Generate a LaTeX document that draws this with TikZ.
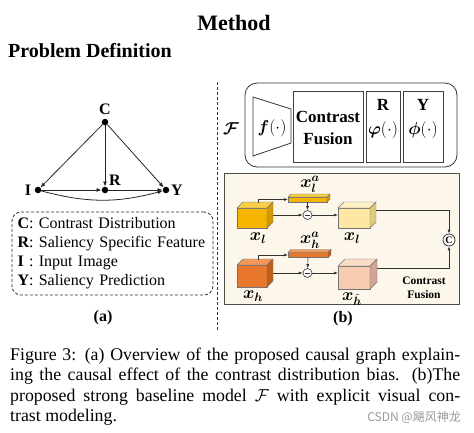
\documentclass[tikz,border=0pt]{standalone}
\usepackage{fontspec}
\usepackage{amsmath}
\usepackage{tikz}
\usetikzlibrary{arrows.meta}
\setmainfont{Liberation Serif}
\newfontfamily\cjkfont{Noto Sans CJK SC}

\definecolor{panelbg}{HTML}{FCF7EA}
\definecolor{lowfront}{HTML}{F4B400}
\definecolor{lowtop}{HTML}{F9CF45}
\definecolor{lowside}{HTML}{D39A00}
\definecolor{lowfrontb}{HTML}{FDE7A2}
\definecolor{lowtopb}{HTML}{FEF1C4}
\definecolor{lowsideb}{HTML}{E2CA7C}
\definecolor{highfront}{HTML}{E8772C}
\definecolor{hightop}{HTML}{F29758}
\definecolor{highside}{HTML}{C25C1B}
\definecolor{highfrontb}{HTML}{F6CBAF}
\definecolor{hightopb}{HTML}{FADBC6}
\definecolor{highsideb}{HTML}{D1A595}

% top and side faces of a box drawn on a front-face node
\newcommand{\cubefaces}[4]{%
  \filldraw[draw=black!55,line width=0.4pt,fill=#3] (#1.north west) -- ([shift={(#2,-#2)}]#1.north west)
    -- ([shift={(#2,-#2)}]#1.north east) -- (#1.north east) -- cycle;
  \filldraw[draw=black!55,line width=0.4pt,fill=#4] (#1.north east) -- ([shift={(#2,-#2)}]#1.north east)
    -- ([shift={(#2,-#2)}]#1.south east) -- (#1.south east) -- cycle;}

\begin{document}
\begin{tikzpicture}[x=1pt,y=-1pt,>={Latex[length=5pt,width=4pt]}]
    \tikzstyle{dot}=[circle,fill=black,inner sep=0pt,minimum size=6.5pt]
    \tikzstyle{vlabel}=[font=\fontsize{16}{19}\selectfont\bfseries,inner sep=1pt]
    \tikzstyle{edge}=[->,line width=0.8pt,draw=black!85]
    \tikzstyle{block}=[rectangle,draw=black!75,line width=0.8pt,inner sep=0pt,outer sep=0pt,minimum height=71]
    \tikzstyle{blocktext}=[font=\fontsize{17}{21}\selectfont\bfseries,inner sep=0pt]
    \tikzstyle{cube}=[rectangle,draw=black!55,line width=0.4pt,inner sep=0pt,outer sep=0pt]
    \tikzstyle{feat}=[font=\fontsize{17}{20}\selectfont,inner sep=0pt]
    \tikzstyle{minus}=[circle,draw=black!80,fill=white,line width=0.6pt,inner sep=0pt,minimum size=9pt,
      path picture={\draw[line width=0.9pt] ([xshift=2pt]path picture bounding box.west) -- ([xshift=-2pt]path picture bounding box.east);}]
    \tikzstyle{flow}=[->,>={Latex[length=4pt,width=3pt]},line width=0.6pt,draw=black!80]
    \tikzstyle{capline}=[anchor=base west,inner sep=0pt,font=\fontsize{17.8}{20}\selectfont]
    \useasboundingbox (0,0) rectangle (474,432);

    % headings
    \node (Title) at (234,23) {\fontsize{22}{26}\selectfont\bfseries Method};
    \node[anchor=west,inner sep=0pt] (Problem) at (8,51) {\fontsize{20}{24}\selectfont\bfseries Problem Definition};

    % (a) causal graph
    \node (C) at (105,122) [dot] {};
    \node (I) at (38,190) [dot] {};
    \node (R) at (105,190) [dot] {};
    \node (Y) at (166,190) [dot] {};
    \node (CLab) at (105,109) [vlabel] {C};
    \node (ILab) at (28,190) [vlabel] {I};
    \node (RLab) at (115,180) [vlabel] {R};
    \node (YLab) at (177,190) [vlabel] {Y};
    \draw [edge] (C) -- (I);
    \draw [edge] (C) -- (R);
    \draw [edge] (C) -- (Y);
    \draw [edge] (I) -- (R);
    \draw [edge] (R) -- (Y);
    \draw [edge] (I) to[bend right=15] (Y);
    \node (Legend) at (112.5,253.5) [draw=black!80,line width=0.8pt,dash pattern=on 3pt off 2pt,rounded corners=9pt,
      minimum width=201,minimum height=83,text width=190,inner sep=5.5pt,align=left,
      font=\fontsize{16}{19}\selectfont] {\textbf{C}: Contrast Distribution\\\textbf{R}: Saliency Specific Feature\\\textbf{I} : Input Image\\\textbf{Y}: Saliency Prediction};
    \node (TagA) at (103,318) {\fontsize{16}{19}\selectfont\bfseries (a)};

    \draw [black!80,line width=0.8pt,dash pattern=on 3pt off 2pt] (217,82) -- (217,330);

    % (b) model
    \node (ModelBox) at (351,125) [draw=black!80,line width=0.8pt,rounded corners=12pt,minimum width=212,minimum height=84] {};
    \node (FLab) at (231,129) {\fontsize{17}{20}\selectfont$\boldsymbol{\mathcal{F}}$};
    \draw [black!80,line width=0.8pt] (253,97) -- (291,109) -- (291,143) -- (253,156) -- cycle;
    \node (Encoder) at (272,128) [blocktext] {$\boldsymbol{f}(\cdot)$};
    \node (Fusion) at (328,126.5) [block,minimum width=70] {};
    \node (FusionText) at (328,128) [blocktext,align=center,font=\fontsize{17}{22}\selectfont\bfseries] {Contrast\\Fusion};
    \node (RBox) at (383,126.5) [block,minimum width=34] {};
    \node (RText) at (383,105) [blocktext] {R};
    \node (RFun) at (383,130) [blocktext] {$\boldsymbol{\varphi}(\cdot)$};
    \node (YBox) at (423,126.5) [block,minimum width=40] {};
    \node (YText) at (423,105) [blocktext] {Y};
    \node (YFun) at (423,130) [blocktext] {$\boldsymbol{\phi}(\cdot)$};

    \node (Panel) at (341.5,238.5) [draw=black!70,fill=panelbg,line width=1pt,minimum width=235,minimum height=131] {};

    % low-level branch
    \node (XL) at (252,218) [cube,fill=lowfront,minimum width=30,minimum height=20] {};
    \cubefaces{XL}{6}{lowtop}{lowside}
    \node (XLa) at (307.5,199.5) [cube,fill=lowfront,minimum width=39,minimum height=5] {};
    \cubefaces{XLa}{3}{lowtop}{lowside}
    \node (M1) at (307.5,215) [minus] {};
    \node (XL2) at (354,218) [cube,fill=lowfrontb,minimum width=32,minimum height=20] {};
    \cubefaces{XL2}{6}{lowtopb}{lowsideb}
    \draw [flow] ([xshift=6pt,yshift=5pt]XL.north) |- (XLa.west);
    \draw [flow] (XLa.south) -- (M1);
    \draw [flow] ([xshift=6pt]M1 -| XL.east) -- (M1);
    \draw [flow] (M1) -- (M1 -| XL2.west);

    % high-level branch
    \node (XH) at (252,276) [cube,fill=highfront,minimum width=30,minimum height=22] {};
    \cubefaces{XH}{6}{hightop}{highside}
    \node (XHa) at (308,255) [cube,fill=highfront,minimum width=40,minimum height=5] {};
    \cubefaces{XHa}{3}{hightop}{highside}
    \node (M2) at (307.5,273) [minus] {};
    \node (XH2) at (354,277.5) [cube,fill=highfrontb,minimum width=32,minimum height=23] {};
    \cubefaces{XH2}{7}{hightopb}{highsideb}
    \draw [flow] ([xshift=6pt,yshift=5pt]XH.north) |- (XHa.west);
    \draw [flow] (XHa.south) -- (M2);
    \draw [flow] ([xshift=6pt]M2 -| XH.east) -- (M2);
    \draw [flow] (M2) -- (M2 -| XH2.west);

    % concatenation
    \node (Cat) at (449,240) [circle,draw=black!85,fill=white,line width=0.7pt,inner sep=0pt,minimum size=12pt,
      font=\fontsize{10}{10}\selectfont\bfseries] {C};
    \draw [flow] ([xshift=6pt,yshift=8pt]XL2.east) -| (Cat);
    \draw [flow] ([xshift=7pt,yshift=9pt]XH2.east) -| (Cat);

    \node (XLLab) at (258,238) [feat] {$\boldsymbol{x}_{\boldsymbol{l}}$};
    \node (XLaLab) at (310,184) [feat] {$\boldsymbol{x}_{\boldsymbol{l}}^{\boldsymbol{a}}$};
    \node (XHaLab) at (310,240) [feat] {$\boldsymbol{x}_{\boldsymbol{h}}^{\boldsymbol{a}}$};
    \node (XL2Lab) at (352,238) [feat] {$\boldsymbol{x}_{\boldsymbol{l}}$};
    \node (XHLab) at (253,296) [feat] {$\boldsymbol{x}_{\boldsymbol{h}}$};
    \node (XH2Lab) at (352,299.5) [feat] {$\boldsymbol{x}_{\tilde{\boldsymbol{h}}}$};
    \node (FusionTag) at (424,288) [align=center,font=\fontsize{11.5}{14}\selectfont\bfseries,inner sep=0pt] {Contrast\\Fusion};
    \node (TagB) at (343,319) {\fontsize{16}{19}\selectfont\bfseries (b)};

    % caption
    \node (Cap1) at (10,360) [capline]
      {\makebox[450pt][s]{Figure 3: (a) Overview of the proposed causal graph explain-}};
    \node (Cap2) at (10,380.5) [capline]
      {\makebox[450pt][s]{ing the causal effect of the contrast distribution bias. (b)The}};
    \node (Cap3) at (10,401) [capline]
      {\makebox[450pt][s]{proposed strong baseline model $\mathcal{F}$ with explicit visual con-}};
    \node (Cap4) at (10,421.5) [capline] {trast modeling.};
    \node (Mark) at (461,421) [anchor=base east,inner sep=0pt,text=black!40,font=\cjkfont\fontsize{12}{14}\selectfont] {CSDN @飓风神龙};
\end{tikzpicture}
\end{document}
